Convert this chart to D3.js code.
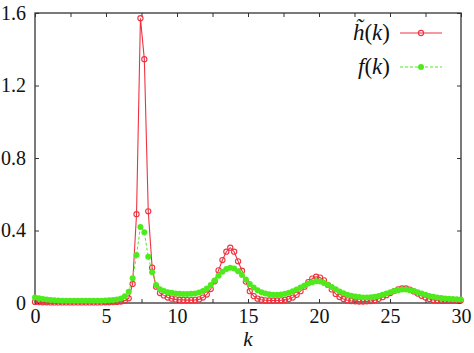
<!DOCTYPE html>
<html>
<head>
<meta charset="utf-8">
<script src="https://cdn.jsdelivr.net/npm/d3@7"></script>
<style>
    body { margin: 0; background: #fff; }
    svg text { font-family: "Liberation Serif", "Times New Roman", Times, Tinos, "Noto Serif", "DejaVu Serif", FreeSerif, serif; }
</style>
</head>
<body>
<div id="chart"></div>
<script>
// k grid and the two curves
const kValues = [0, 0.275, 0.55, 0.825, 1.1, 1.375, 1.65, 1.925, 2.2, 2.475,
    2.75, 3.025, 3.3, 3.575, 3.85, 4.125, 4.4, 4.675, 4.95, 5.225,
    5.5, 5.775, 6.05, 6.325, 6.6, 6.875, 7.15, 7.425, 7.7, 7.975,
    8.25, 8.525, 8.8, 9.075, 9.35, 9.625, 9.9, 10.175, 10.45, 10.725,
    11.0, 11.275, 11.55, 11.825, 12.1, 12.375, 12.65, 12.925, 13.2, 13.475,
    13.75, 14.025, 14.3, 14.575, 14.85, 15.125, 15.4, 15.675, 15.95, 16.225,
    16.5, 16.775, 17.05, 17.325, 17.6, 17.875, 18.15, 18.425, 18.7, 18.975,
    19.25, 19.525, 19.8, 20.075, 20.35, 20.625, 20.9, 21.175, 21.45, 21.725,
    22.0, 22.275, 22.55, 22.825, 23.1, 23.375, 23.65, 23.925, 24.2, 24.475,
    24.75, 25.025, 25.3, 25.575, 25.85, 26.125, 26.4, 26.675, 26.95, 27.225,
    27.5, 27.775, 28.05, 28.325, 28.6, 28.875, 29.15, 29.425, 29.7, 29.975];

const hValues = [0.006, 0.005, 0.004, 0.004, 0.003, 0.003, 0.003, 0.003, 0.003, 0.003,
    0.003, 0.003, 0.003, 0.003, 0.003, 0.003, 0.003, 0.003, 0.004, 0.004,
    0.005, 0.006, 0.008, 0.013, 0.026, 0.105, 0.49, 1.571, 1.345, 0.506,
    0.195, 0.09, 0.055, 0.042, 0.03, 0.024, 0.02, 0.018, 0.017, 0.016,
    0.016, 0.017, 0.02, 0.03, 0.047, 0.077, 0.12, 0.18, 0.237, 0.283,
    0.305, 0.283, 0.23, 0.178, 0.118, 0.065, 0.038, 0.024, 0.018, 0.015,
    0.014, 0.014, 0.014, 0.015, 0.017, 0.022, 0.03, 0.045, 0.065, 0.09,
    0.115, 0.135, 0.145, 0.14, 0.125, 0.1, 0.075, 0.05, 0.033, 0.022,
    0.015, 0.011, 0.009, 0.008, 0.008, 0.009, 0.011, 0.016, 0.023, 0.032,
    0.043, 0.055, 0.066, 0.075, 0.08, 0.08, 0.074, 0.064, 0.052, 0.04,
    0.03, 0.022, 0.017, 0.014, 0.012, 0.012, 0.012, 0.013, 0.013, 0.014];

const fValues = [0.03, 0.026, 0.022, 0.019, 0.017, 0.015, 0.014, 0.013, 0.012, 0.012,
    0.012, 0.012, 0.012, 0.012, 0.012, 0.012, 0.012, 0.013, 0.014, 0.015,
    0.017, 0.02, 0.025, 0.037, 0.062, 0.136, 0.265, 0.42, 0.39, 0.255,
    0.17, 0.1, 0.076, 0.066, 0.06, 0.056, 0.053, 0.051, 0.05, 0.05,
    0.051, 0.053, 0.058, 0.066, 0.08, 0.1, 0.124, 0.15, 0.172, 0.188,
    0.195, 0.19, 0.175, 0.155, 0.13, 0.105, 0.085, 0.07, 0.06, 0.053,
    0.048, 0.046, 0.045, 0.047, 0.051, 0.057, 0.065, 0.075, 0.086, 0.097,
    0.107, 0.115, 0.12, 0.118, 0.11, 0.1, 0.088, 0.076, 0.064, 0.054,
    0.046, 0.04, 0.036, 0.033, 0.031, 0.031, 0.032, 0.035, 0.039, 0.045,
    0.052, 0.059, 0.066, 0.071, 0.074, 0.074, 0.071, 0.066, 0.059, 0.052,
    0.045, 0.039, 0.034, 0.03, 0.027, 0.025, 0.023, 0.022, 0.021, 0.02];

const xTicks = [0, 5, 10, 15, 20, 25, 30];
const xMinorTicks = [2.5, 7.5, 12.5, 17.5, 22.5, 27.5];
const yTicks = [0, 0.4, 0.8, 1.2, 1.6];

function main() {
    let left = 35, top = 13, right = 461, bottom = 303;
    let redColor = "#ee3340";
    let greenColor = "#4fea1e";

    let svg = d3.select("#chart").append("svg")
        .attr("width", 474)
        .attr("height", 353);

    let xScale = d3.scaleLinear().domain([0, 30]).range([left, right]);
    let yScale = d3.scaleLinear().domain([0, 1.6]).range([bottom, top]);

    let hData = kValues.map(function(k, i){ return {k: k, v: hValues[i]}; });
    let fData = kValues.map(function(k, i){ return {k: k, v: fValues[i]}; });

    let line = d3.line()
        .x(function(d){ return xScale(d.k); })
        .y(function(d){ return yScale(d.v); });

    // axes: ticks point inward, mirrored on top and right
    let tickLen = 4;
    let allX = xTicks.concat(xMinorTicks);
    let axisG = svg.append("g");

    axisG.append("g")
        .attr("transform", "translate(0," + bottom + ")")
        .call(d3.axisBottom(xScale).tickValues(allX).tickSizeInner(-tickLen).tickSizeOuter(0)
            .tickFormat(function(d){ return xTicks.indexOf(d) >= 0 ? d : ""; }))
        .call(function(g){
            g.attr("font-family", null);
            g.select(".domain").remove();
            g.selectAll("line").attr("stroke", "#333");
            g.selectAll("text").attr("y", 6).attr("dy", "0.71em")
                .attr("font-size", 20).attr("fill", "#111");
        });

    axisG.append("g")
        .attr("transform", "translate(0," + top + ")")
        .call(d3.axisTop(xScale).tickValues(allX).tickSizeInner(-tickLen).tickSizeOuter(0).tickFormat(""))
        .call(function(g){
            g.select(".domain").remove();
            g.selectAll("line").attr("stroke", "#333");
        });

    axisG.append("g")
        .attr("transform", "translate(" + left + ",0)")
        .call(d3.axisLeft(yScale).tickValues(yTicks).tickSizeInner(-tickLen).tickSizeOuter(0)
            .tickFormat(function(d){ return d === 0 ? "0" : d3.format(".1f")(d); }))
        .call(function(g){
            g.attr("font-family", null);
            g.select(".domain").remove();
            g.selectAll("line").attr("stroke", "#333");
            g.selectAll("text").attr("x", -9)
                .attr("font-size", 20).attr("fill", "#111");
        });

    axisG.append("g")
        .attr("transform", "translate(" + right + ",0)")
        .call(d3.axisRight(yScale).tickValues(yTicks).tickSizeInner(-tickLen).tickSizeOuter(0).tickFormat(""))
        .call(function(g){
            g.select(".domain").remove();
            g.selectAll("line").attr("stroke", "#333");
        });

    // frame
    svg.append("rect")
        .attr("x", left)
        .attr("y", top)
        .attr("width", right - left)
        .attr("height", bottom - top)
        .attr("fill", "none")
        .attr("stroke", "#333")
        .attr("stroke-width", 1.3);

    svg.append("text")
        .attr("x", xScale(15))
        .attr("y", 346)
        .attr("text-anchor", "middle")
        .attr("font-style", "italic")
        .attr("font-size", 21)
        .attr("fill", "#111")
        .text("k");

    // h(k): red line, open circles
    svg.append("path")
        .datum(hData)
        .attr("fill", "none")
        .attr("stroke", redColor)
        .attr("stroke-width", 1.1)
        .attr("d", line);

    svg.append("g")
        .selectAll("circle")
        .data(hData)
        .enter()
        .append("circle")
        .attr("cx", function(d){ return xScale(d.k); })
        .attr("cy", function(d){ return yScale(d.v); })
        .attr("r", 2.6)
        .attr("fill", "none")
        .attr("stroke", redColor)
        .attr("stroke-width", 1.1);

    // f(k): green dashed line, filled dots
    svg.append("path")
        .datum(fData)
        .attr("fill", "none")
        .attr("stroke", greenColor)
        .attr("stroke-width", 1)
        .attr("stroke-dasharray", "3,2")
        .attr("d", line);

    svg.append("g")
        .selectAll("circle")
        .data(fData)
        .enter()
        .append("circle")
        .attr("cx", function(d){ return xScale(d.k); })
        .attr("cy", function(d){ return yScale(d.v); })
        .attr("r", 3)
        .attr("fill", greenColor);

    // legend
    let legend = svg.append("g");
    let legendRows = [
        {label: "h\u0303", y: 33, color: redColor, open: true},
        {label: "f", y: 67, color: greenColor, open: false}
    ];
    legendRows.forEach(function(r){
        let t = legend.append("text")
            .attr("x", 390)
            .attr("y", r.y + 7)
            .attr("text-anchor", "end")
            .attr("font-size", 23)
            .attr("fill", "#111");
        t.append("tspan").attr("font-style", "italic").text(r.label);
        t.append("tspan").text("(");
        t.append("tspan").attr("font-style", "italic").text("k");
        t.append("tspan").text(")");

        legend.append("line")
            .attr("x1", 400)
            .attr("x2", 442)
            .attr("y1", r.y)
            .attr("y2", r.y)
            .attr("stroke", r.color)
            .attr("stroke-width", r.open ? 1.1 : 1)
            .attr("stroke-dasharray", r.open ? null : "3,2");
        legend.append("circle")
            .attr("cx", 421)
            .attr("cy", r.y)
            .attr("r", r.open ? 2.6 : 3)
            .attr("fill", r.open ? "none" : r.color)
            .attr("stroke", r.open ? r.color : "none")
            .attr("stroke-width", 1.1);
    });
}

main();
</script>
</body>
</html>
